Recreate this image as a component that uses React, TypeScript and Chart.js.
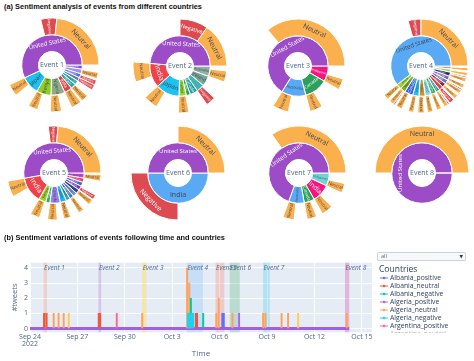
import React, { useEffect, useRef } from 'react';
import { Chart, registerables } from 'chart.js';
Chart.register(...registerables);

// ================= DATA =================
// (a) sunbursts: countries in drawing order (counter-clockwise from 3 o'clock), tweets per country,
// and the Neutral / Negative children of each country.
const eventNames = ['Event 1', 'Event 2', 'Event 3', 'Event 4', 'Event 5', 'Event 6', 'Event 7', 'Event 8'];

const e1Countries = ['United States', 'Japan', 'Kenya', 'Nigeria', 'India', 'Canada', 'Ireland', 'Australia', 'Pakistan', 'United Kingdom', 'Germany'];
const e1Tweets = [205, 35, 28, 27, 15, 10, 8, 7, 8, 9, 8];
const e1Neutral = [84, 15, 12, 14, 13, 9, 0, 0, 0, 8, 0];
const e1Negative = [20, 0, 0, 0, 0, 0, 0, 7, 6, 0, 0];

const e2Countries = ['United States', 'India', 'Japan', 'Kenya', 'Nigeria', 'Canada', 'United Kingdom', 'Ireland', 'Australia'];
const e2Tweets = [175, 47, 46, 14, 8, 15, 15, 20, 20];
const e2Neutral = [55, 25, 18, 13, 0, 0, 0, 0, 14];
const e2Negative = [35, 0, 0, 0, 0, 0, 12, 0, 0];

const e3Countries = ['United States', 'Australia', 'Canada', 'Philippines'];
const e3Tweets = [238, 47, 45, 30];
const e3Neutral = [130, 20, 16, 14];
const e3Negative = [0, 0, 0, 0];

const e4Countries = ['United States', 'Kenya', 'Nigeria', 'Canada', 'Japan', 'India', 'Ireland', 'Germany', 'South Africa', 'United Kingdom', 'Pakistan', 'France', 'Australia', 'Ghana', 'Brazil', 'Mexico'];
const e4Tweets = [218, 10, 10, 16, 12, 12, 12, 10, 8, 8, 8, 8, 8, 8, 6, 6];
const e4Neutral = [90, 7, 6, 8, 7, 8, 7, 6, 5, 0, 5, 5, 5, 5, 4, 4];
const e4Negative = [16, 0, 2, 0, 0, 0, 0, 0, 2, 6, 0, 2, 0, 2, 0, 0];

const e5Countries = ['United States', 'India', 'Kenya', 'Nigeria', 'Canada', 'Japan', 'Ireland', 'Australia', 'Germany', 'United Kingdom', 'Pakistan', 'France', 'South Africa', 'Philippines'];
const e5Tweets = [190, 50, 14, 8, 20, 12, 8, 8, 8, 8, 8, 8, 8, 10];
const e5Neutral = [85, 20, 12, 0, 12, 9, 0, 7, 0, 7, 0, 0, 0, 8];
const e5Negative = [12, 0, 0, 0, 0, 0, 0, 0, 0, 0, 6, 0, 0, 0];

const e6Countries = ['United States', 'India'];
const e6Tweets = [180, 180];
const e6Neutral = [90, 0];
const e6Negative = [0, 90];

const e7Countries = ['United States', 'Australia', 'Canada', 'India', 'Philippines'];
const e7Tweets = [250, 30, 20, 35, 25];
const e7Neutral = [125, 14, 12, 14, 12];
const e7Negative = [0, 0, 0, 0, 0];

const e8Countries = ['United States'];
const e8Tweets = [360];
const e8Neutral = [180];
const e8Negative = [0];

// (b) time series
const baseTime = '2022-09-24T00:00';
const xTickLabels: (string | string[])[] = [['Sep 24', '2022'], 'Sep 27', 'Sep 30', 'Oct 3', 'Oct 6', 'Oct 9', 'Oct 12', 'Oct 15'];
const eventStarts = ['2022-09-24T20:40', '2022-09-28T07:55', '2022-10-01T02:25', '2022-10-03T22:20', '2022-10-05T17:45', '2022-10-06T15:20', '2022-10-08T18:00', '2022-10-13T22:20'];
const eventEnds = ['2022-09-25T01:55', '2022-09-28T12:00', '2022-10-01T08:40', '2022-10-04T22:35', '2022-10-06T07:10', '2022-10-07T06:30', '2022-10-09T04:05', '2022-10-14T04:50'];

const albaniaPositiveTimes = ['2022-10-06T04:05', '2022-10-06T06:15'];
const albaniaPositiveCounts = [1, 1];
const albaniaNeutralTimes = ['2022-09-24T21:20', '2022-09-25T01:10', '2022-09-28T08:25', '2022-09-28T10:35', '2022-10-04T12:00', '2022-10-04T13:40'];
const albaniaNeutralCounts = [1, 1, 1, 1, 1, 1];
const albaniaNegativeTimes = ['2022-10-04T04:20', '2022-10-04T23:00'];
const albaniaNegativeCounts = [2, 1];
const algeriaPositiveTimes = ['2022-10-07T05:30'];
const algeriaPositiveCounts = [1];
const algeriaNeutralTimes = ['2022-09-24T23:15', '2022-09-25T12:00', '2022-09-25T19:25', '2022-09-26T03:10', '2022-10-01T02:25', '2022-10-03T22:35', '2022-10-04T01:55', '2022-10-05T18:55', '2022-10-05T22:35', '2022-10-06T19:25', '2022-10-08T18:00', '2022-10-08T21:35', '2022-10-09T22:05', '2022-10-10T07:55', '2022-10-14T01:00'];
const algeriaNeutralCounts = [1, 1, 1, 1, 1, 4, 3, 1, 2, 1, 1, 1, 1, 1, 1];
const algeriaNegativeTimes = ['2022-10-04T00:00', '2022-10-04T01:25', '2022-10-04T03:05', '2022-10-04T04:50', '2022-10-04T06:30', '2022-10-04T07:55'];
const algeriaNegativeCounts = [1, 1, 1, 1, 1, 1];
const argentinaPositiveTimes = ['2022-09-29T11:45'];
const argentinaPositiveCounts = [1];
const australiaPositiveTimes = ['2022-09-26T10:50', '2022-10-10T23:15'];
const australiaPositiveCounts = [1, 1];
const zeroTimes = ['2022-09-24T00:00', '2022-10-14T04:50'];
const zeroCounts = [0, 0];

const legendSeries = ['Albania_positive', 'Albania_neutral', 'Albania_negative', 'Algeria_positive', 'Algeria_neutral', 'Algeria_negative', 'Argentina_positive', 'Argentina_neutral'];

// ================= STYLES =================
const NEUTRAL_COLOR = '#fbb04e';
const NEGATIVE_COLOR = '#dd4a50';
const US_COLOR = '#9b4cc6';
const e1Colors = [US_COLOR, '#1cc3f0', '#8fce22', '#8fac8a', '#e8404a', '#22a6a6', '#3fb5b0', '#5b7fb5', '#4a6ee0', '#a48cf0', '#7a4fd0'];
const e2Colors = [US_COLOR, '#f0424a', '#1cc3f0', '#9ad72a', '#2ea05a', '#1f9e9e', '#40b4b4', '#7aa79a', '#8fb0a2'];
const e3Colors = [US_COLOR, '#5aa9f5', '#2aa05a', '#f5157f'];
const e4Colors = ['#5aa9f5', '#9ad72a', '#7ab02a', '#2e5fe0', '#19c3f0', '#c8952f', '#7fe6f0', '#3aa85a', '#2a9a9a', '#e0404a', '#a02040', '#6080b0', '#8060c0', '#2a3080', '#b0e040', '#b4a0f0'];
const e5Colors = [US_COLOR, '#f0424a', '#9ad72a', '#3aa85a', '#9a80f0', '#19b8f0', '#30a8b0', '#4070d0', '#7090c0', '#3040a0', '#7040b0', '#5060e0', '#e03050', '#e040f0'];
const e6Colors = [US_COLOR, '#5aa9f5'];
const e7Colors = [US_COLOR, '#5aa9f5', '#2aa05a', '#f5157f', '#6fd6d6'];
const e8Colors = [US_COLOR];
const sunCenters = [[52, 65], [180, 66], [298, 66], [421, 66], [54, 173], [178, 173], [299, 173], [422, 173]];
const eventBandColors = ['rgba(255,140,80,0.28)', 'rgba(170,100,200,0.28)', 'rgba(255,225,60,0.42)', 'rgba(120,185,255,0.28)', 'rgba(255,120,100,0.28)', 'rgba(60,170,100,0.26)', 'rgba(60,200,240,0.3)', 'rgba(230,90,170,0.38)'];
const legendColors = ['#636efa', '#EF553B', '#00cc96', '#ab63fa', '#FFA15A', '#19d3f3', '#FF6692', '#B6E880'];
const TXT = '#506784';
const FONT = '"Open Sans", "DejaVu Sans", sans-serif';

const events = [
  { countries: e1Countries, tweets: e1Tweets, neutral: e1Neutral, negative: e1Negative, colors: e1Colors },
  { countries: e2Countries, tweets: e2Tweets, neutral: e2Neutral, negative: e2Negative, colors: e2Colors },
  { countries: e3Countries, tweets: e3Tweets, neutral: e3Neutral, negative: e3Negative, colors: e3Colors },
  { countries: e4Countries, tweets: e4Tweets, neutral: e4Neutral, negative: e4Negative, colors: e4Colors },
  { countries: e5Countries, tweets: e5Tweets, neutral: e5Neutral, negative: e5Negative, colors: e5Colors },
  { countries: e6Countries, tweets: e6Tweets, neutral: e6Neutral, negative: e6Negative, colors: e6Colors },
  { countries: e7Countries, tweets: e7Tweets, neutral: e7Neutral, negative: e7Negative, colors: e7Colors },
  { countries: e8Countries, tweets: e8Tweets, neutral: e8Neutral, negative: e8Negative, colors: e8Colors },
];

// ================= HELPERS =================
function brightness(c: string): number {
  if (!c.startsWith('#')) return 255;
  const n = parseInt(c.slice(1), 16);
  const r = (n >> 16) & 255, g = (n >> 8) & 255, b = n & 255;
  return (r * 299 + g * 587 + b * 114) / 1000;
}

function buildRings(ev: any) {
  const oV: number[] = [], oC: string[] = [], oL: string[] = [], oB: number[] = [];
  ev.tweets.forEach((v: number, i: number) => {
    const parts: [number, string, string][] = [
      [ev.neutral[i], NEUTRAL_COLOR, 'Neutral'],
      [ev.negative[i], NEGATIVE_COLOR, 'Negative'],
      [v - ev.neutral[i] - ev.negative[i], 'rgba(0,0,0,0)', ''],
    ];
    parts.forEach(([val, c, l]) => {
      if (val > 0) { oV.push(val); oC.push(c); oL.push(l); oB.push(l ? 1 : 0); }
    });
  });
  return {
    outer: { values: oV.reverse(), colors: oC.reverse(), labels: oL.reverse(), borders: oB.reverse() },
    inner: { values: [...ev.tweets].reverse(), colors: [...ev.colors].reverse(), labels: [...ev.countries].reverse() },
  };
}

const norm = (a: number) => {
  a = a % (2 * Math.PI);
  if (a > Math.PI) a -= 2 * Math.PI;
  if (a <= -Math.PI) a += 2 * Math.PI;
  return a;
};

const MAXF = 7;
function sunLabelPlugin(title: string) {
  return {
    id: 'sunLabels',
    afterDatasetsDraw(chart: any) {
      const ctx = chart.ctx as CanvasRenderingContext2D;
      ctx.save();
      ctx.textAlign = 'center';
      ctx.textBaseline = 'middle';
      chart.data.datasets.forEach((ds: any, di: number) => {
        const meta = chart.getDatasetMeta(di);
        meta.data.forEach((arc: any, i: number) => {
          const text = ds.labelsText[i];
          if (!text) return;
          const p = arc.getProps(['x', 'y', 'startAngle', 'endAngle', 'innerRadius', 'outerRadius'], true);
          const span = p.endAngle - p.startAngle;
          const mid = (p.startAngle + p.endAngle) / 2;
          const thick = p.outerRadius - p.innerRadius;
          const rMid = (p.innerRadius + p.outerRadius) / 2;
          ctx.font = `10px ${FONT}`;
          const w1 = ctx.measureText(text).width / 10;
          const chord = 2 * rMid * Math.sin(Math.min(span, 2.2) / 2);
          const tSize = Math.min(MAXF, (chord * 0.97) / w1, (thick * 0.85) / 1.1);
          const rSize = Math.min(MAXF, (thick * 0.9) / w1, (chord * 0.85) / 1.15);
          const tangential = tSize >= rSize;
          const size = Math.max(tSize, rSize);
          if (size < 2.2) return;
          let rot = norm(tangential ? mid + Math.PI / 2 : mid);
          if (rot > Math.PI / 2 + 1e-6 || rot < -Math.PI / 2 - 1e-6) rot = norm(rot + Math.PI);
          const bg = ds.backgroundColor[i];
          ctx.fillStyle = brightness(bg) > 128 ? '#3d4656' : '#ffffff';
          ctx.font = `${size}px ${FONT}`;
          ctx.save();
          ctx.translate(p.x + rMid * Math.cos(mid), p.y + rMid * Math.sin(mid));
          ctx.rotate(rot);
          ctx.fillText(text, 0, 0);
          ctx.restore();
        });
      });
      const ca = chart.chartArea;
      ctx.fillStyle = TXT;
      ctx.font = `7px ${FONT}`;
      ctx.fillText(title, (ca.left + ca.right) / 2, (ca.top + ca.bottom) / 2);
      ctx.restore();
    },
  };
}

function Sunburst({ idx }: { idx: number }) {
  const ref = useRef<HTMLCanvasElement>(null);
  const [cx, cy] = sunCenters[idx];
  useEffect(() => {
    const rings = buildRings(events[idx]);
    const chart = new Chart(ref.current as HTMLCanvasElement, {
      type: 'doughnut',
      data: {
        datasets: [
          { data: rings.outer.values, backgroundColor: rings.outer.colors, borderColor: '#ffffff', borderWidth: rings.outer.borders, labelsText: rings.outer.labels } as any,
          { data: rings.inner.values, backgroundColor: rings.inner.colors, borderColor: '#ffffff', borderWidth: 1, labelsText: rings.inner.labels } as any,
        ],
      },
      options: {
        responsive: false,
        animation: false,
        events: [],
        radius: 47,
        cutout: 16,
        rotation: 90,
        layout: { padding: 0 },
        plugins: { legend: { display: false }, tooltip: { enabled: false } },
      } as any,
      plugins: [sunLabelPlugin(eventNames[idx])],
    });
    return () => chart.destroy();
  }, []);
  return <canvas ref={ref} width={112} height={112} style={{ position: 'absolute', left: cx - 56, top: cy - 56 }} />;
}

const toDays = (t: string) => (Date.parse(t + 'Z') - Date.parse(baseTime + 'Z')) / 86400000;
const pts = (times: string[], counts: number[]) => times.map((t, i) => ({ x: toDays(t), y: counts[i] }));

function Timeline() {
  const ref = useRef<HTMLCanvasElement>(null);
  useEffect(() => {
    const spikeSeries: [string, string[], number[], string][] = [
      ['Australia_positive', australiaPositiveTimes, australiaPositiveCounts, '#FECB52'],
      ['Algeria_negative', algeriaNegativeTimes, algeriaNegativeCounts, '#19d3f3'],
      ['Albania_negative', albaniaNegativeTimes, albaniaNegativeCounts, '#00cc96'],
      ['Albania_neutral', albaniaNeutralTimes, albaniaNeutralCounts, '#EF553B'],
      ['Argentina_positive', argentinaPositiveTimes, argentinaPositiveCounts, '#FF6692'],
      ['Albania_positive', albaniaPositiveTimes, albaniaPositiveCounts, '#636efa'],
      ['Algeria_positive', algeriaPositiveTimes, algeriaPositiveCounts, '#ab63fa'],
      ['Algeria_neutral', algeriaNeutralTimes, algeriaNeutralCounts, '#FFA15A'],
    ];
    const datasets: any[] = spikeSeries.map(([label, t, c, color]) => ({
      type: 'bar', label, data: pts(t, c), backgroundColor: color, barThickness: 1.3, grouped: false,
    }));
    datasets.push({ type: 'line', label: 'all', data: pts(zeroTimes, zeroCounts), borderColor: '#a15ee6', borderWidth: 3, pointRadius: 0 });

    const bgPlugin = {
      id: 'plotBg',
      beforeDraw(chart: any) {
        const { ctx, chartArea: a } = chart;
        ctx.save();
        ctx.fillStyle = '#E5ECF6';
        ctx.fillRect(a.left, a.top, a.right - a.left, a.bottom - a.top);
        ctx.restore();
      },
    };
    const bandPlugin = {
      id: 'bands',
      beforeDatasetsDraw(chart: any) {
        const { ctx, chartArea: a, scales } = chart;
        ctx.save();
        eventStarts.forEach((s, i) => {
          const x0 = scales.x.getPixelForValue(toDays(s));
          const x1 = scales.x.getPixelForValue(toDays(eventEnds[i]));
          ctx.fillStyle = eventBandColors[i];
          ctx.fillRect(x0, a.top, x1 - x0, a.bottom - a.top);
        });
        ctx.restore();
      },
      afterDatasetsDraw(chart: any) {
        const { ctx, chartArea: a, scales } = chart;
        ctx.save();
        ctx.fillStyle = TXT;
        ctx.font = `italic 6.5px ${FONT}`;
        ctx.textBaseline = 'middle';
        ctx.textAlign = 'left';
        eventStarts.forEach((s, i) => {
          const x0 = scales.x.getPixelForValue(toDays(s));
          ctx.fillText(eventNames[i], x0 + 0.5, a.top + 5);
        });
        ctx.restore();
      },
    };

    const chart = new Chart(ref.current as HTMLCanvasElement, {
      type: 'bar',
      data: { datasets },
      options: {
        responsive: false,
        animation: false,
        events: [],
        layout: { padding: { top: 12.7, right: 8, left: 0, bottom: 0 } },
        plugins: { legend: { display: false }, tooltip: { enabled: false } },
        scales: {
          x: {
            type: 'linear', min: 0, max: 21.64, offset: false,
            grid: { color: '#ffffff', lineWidth: 1, drawTicks: false, offset: false },
            border: { display: false },
            ticks: {
              stepSize: 3, includeBounds: false, maxRotation: 0, autoSkip: false, padding: 1.5, color: TXT,
              font: { size: 7, family: FONT, lineHeight: 1 },
              callback: (v: any) => xTickLabels[Math.round(Number(v) / 3)],
            },
            title: { display: true, text: 'Time', color: TXT, font: { size: 8, family: FONT }, padding: { top: 0, bottom: 2.2 } },
            afterFit: (s: any) => { s.height = 28.7; },
          },
          y: {
            min: -0.25, max: 4.35,
            grid: { color: '#ffffff', lineWidth: 1, drawTicks: false },
            border: { display: false },
            ticks: { stepSize: 1, includeBounds: false, padding: 2, color: TXT, font: { size: 7, family: FONT } },
            title: { display: true, text: '#tweets', color: TXT, font: { size: 7.5, family: FONT }, padding: { top: 10.5, bottom: 0 } },
            afterFit: (s: any) => { s.width = 30; },
          },
        },
      } as any,
      plugins: [bgPlugin, bandPlugin],
    });
    return () => chart.destroy();
  }, []);
  return <canvas ref={ref} width={380} height={111} style={{ position: 'absolute', left: 0, top: 250 }} />;
}

function Legend() {
  return (
    <>
      <div style={{ position: 'absolute', left: 377, top: 251.5, width: 87, height: 7, border: '1px solid #c8d4e3', background: '#f8f8f8', borderRadius: 1 }}>
        <span style={{ position: 'absolute', left: 3, top: 0, fontSize: 5.5, lineHeight: '7px', color: TXT, fontFamily: FONT }}>all</span>
        <span style={{ position: 'absolute', right: 2, top: 0, fontSize: 4.5, lineHeight: '7px', color: '#333', fontFamily: '"DejaVu Sans"' }}>▼</span>
      </div>
      <div style={{ position: 'absolute', left: 379, top: 264, fontSize: 8.5, lineHeight: '10px', color: '#2a3f5f', fontFamily: FONT }}>Countries</div>
      <div style={{ position: 'absolute', left: 378, top: 273, width: 96, height: 60, overflow: 'hidden' }}>
        {legendSeries.map((s, i) => (
          <div key={s} style={{ position: 'absolute', left: 0, top: 0.7 + i * 8, height: 8, width: 96, opacity: i === 7 ? 0.4 : 1 }}>
            <svg width={10} height={8} style={{ position: 'absolute', left: 2, top: 0 }}>
              <line x1={0} y1={4} x2={8} y2={4} stroke={legendColors[i]} strokeWidth={1} />
              <circle cx={4} cy={4} r={1.2} fill={legendColors[i]} />
            </svg>
            <span style={{ position: 'absolute', left: 12, top: 0, fontSize: 6.8, lineHeight: '8px', color: '#2a3f5f', fontFamily: FONT, whiteSpace: 'nowrap' }}>{s}</span>
          </div>
        ))}
      </div>
    </>
  );
}

export default function App() {
  return (
    <div style={{ position: 'absolute', left: 0, top: 0, width: 474, height: 361, background: '#ffffff', overflow: 'hidden' }}>
      <div style={{ position: 'absolute', left: 4, top: 1.7, font: 'bold 7.4px "Liberation Sans", Arial, sans-serif', lineHeight: '10px', whiteSpace: 'nowrap', color: '#111' }}>
        (a) Sentiment analysis of events from different countries
      </div>
      {eventNames.map((_, i) => <Sunburst key={i} idx={i} />)}
      <div style={{ position: 'absolute', left: 4, top: 232.7, font: 'bold 7.4px "Liberation Sans", Arial, sans-serif', lineHeight: '10px', whiteSpace: 'nowrap', color: '#111' }}>
        (b) Sentiment variations of events following time and countries
      </div>
      <Timeline />
      <Legend />
    </div>
  );
}
